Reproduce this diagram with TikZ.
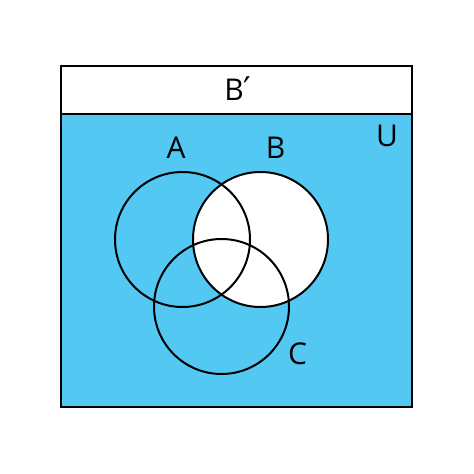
\documentclass[tikz,border=0pt]{standalone}
\usepackage{fontspec}
\setmainfont{Open Sans}
\newfontfamily\dvs{DejaVu Sans}
\definecolor{skyb}{RGB}{82,200,242}
\begin{document}
\begin{tikzpicture}[x=1pt,y=-1pt,
  lbl/.style={font=\fontsize{30}{30}\selectfont, text=black, inner sep=0pt},
  ring/.style={draw=black, line width=2pt}]
\useasboundingbox[fill=white] (0,0) rectangle (474,474);
\fill[skyb] (61,114) rectangle (412,407);
\fill[white] (61,66) rectangle (412,114);
\fill[white] (260.5,239.5) circle (67.5);
\node[ring, circle, minimum size=135pt, inner sep=0pt] (A) at (182.5,239.5) {};
\node[ring, circle, minimum size=135pt, inner sep=0pt] (B) at (260.5,239.5) {};
\node[ring, circle, minimum size=135pt, inner sep=0pt] (C) at (221.5,306.5) {};
\draw[line width=2pt] (61,66) rectangle (412,407);
\draw[line width=2pt] (61,114) -- (412,114);
\node[lbl] (Bp) at (238,89) {B{\dvs\fontsize{34}{34}\selectfont\raisebox{-1pt}{′}}};
\node[lbl] (la) at (176,148) {A};
\node[lbl] (lb) at (275.5,148) {B};
\node[lbl] (lc) at (297.5,354) {C};
\node[lbl] (lu) at (387,136) {U};
\end{tikzpicture}
\end{document}
